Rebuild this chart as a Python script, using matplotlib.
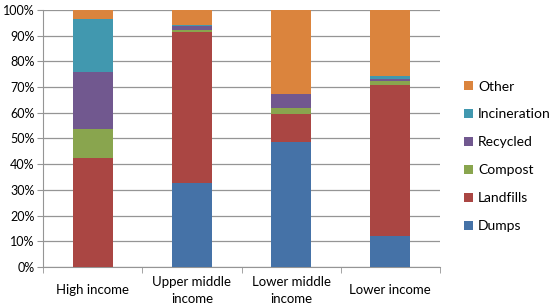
import numpy as np
import matplotlib.pyplot as plt

plt.rcParams['font.family'] = ['Lato', 'DejaVu Sans']

groups = ['High income', 'Upper middle\nincome', 'Lower middle\nincome', 'Lower income']
series = ['Dumps', 'Landfills', 'Compost', 'Recycled', 'Incineration', 'Other']
dumps = [0.0, 32.5, 48.7, 12.2]
landfills = [42.5, 58.8, 11.0, 58.6]
compost = [11.1, 1.0, 2.2, 1.7]
recycled = [22.1, 1.6, 5.4, 0.5]
incineration = [20.8, 0.1, 0.0, 1.3]
other = [3.5, 6.0, 32.7, 25.7]

colors = ['#4572A7', '#AA4643', '#89A54E', '#71588F', '#4198AF', '#DB843D']


def main():
    fig = plt.figure(figsize=(5.52, 3.05), dpi=100)
    ax = fig.add_axes([0.078, 0.125, 0.719, 0.842])

    x = np.arange(len(groups))
    bottom = np.zeros(len(groups))
    handles = []
    for name, vals, c in zip(series, [dumps, landfills, compost, recycled, incineration, other], colors):
        vals = np.array(vals)
        h = ax.bar(x, vals, 0.4, bottom=bottom, color=c, label=name, zorder=3)
        bottom += vals
        handles.append(h)

    ax.set_ylim(0, 100)
    ax.set_xlim(-0.5, 3.5)
    ax.set_yticks(range(0, 101, 10))
    ax.set_yticklabels(['%d%%' % v for v in range(0, 101, 10)], fontsize=9)
    ax.yaxis.grid(True, color='#959595', linewidth=0.9, zorder=0)
    ax.tick_params(axis='y', length=4, color='#959595', pad=2)

    ax.set_xticks(x)
    ax.set_xticklabels(groups, fontsize=9.5, va='center', linespacing=1.45)
    ax.tick_params(axis='x', length=0, pad=17)
    ax.set_xticks(np.arange(-0.5, 4, 1), minor=True)
    ax.tick_params(axis='x', which='minor', length=4, color='#959595')

    for s in ['top', 'right']:
        ax.spines[s].set_visible(False)
    for s in ['left', 'bottom']:
        ax.spines[s].set_color('#959595')

    ax.legend(handles[::-1], series[::-1], loc='center left', bbox_to_anchor=(1.03, 0.43),
              frameon=False, fontsize=10, handlelength=0.6, handleheight=0.6,
              handletextpad=0.4, labelspacing=1.15)

    fig.savefig('out.png', dpi=100)


if __name__ == '__main__':
    main()
